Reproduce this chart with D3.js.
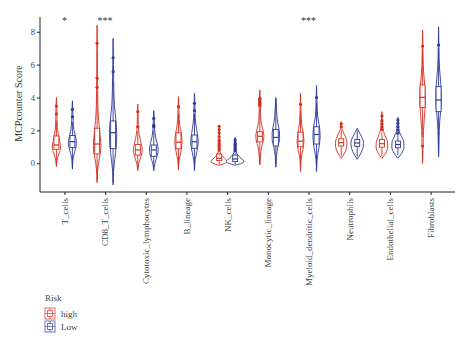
<!DOCTYPE html>
<html><head><meta charset="utf-8">
<script src="https://cdn.jsdelivr.net/npm/d3@7"></script>
<style>body{margin:0;background:#fff}svg{display:block}text{font-family:"Liberation Serif","DejaVu Serif",serif}</style>
</head><body>
<svg id="chart" width="474" height="350"></svg>
<script>
const categories = ["T_cells","CD8_T_cells","Cytotoxic_lymphocytes","B_lineage","NK_cells","Monocytic_lineage","Myeloid_dendritic_cells","Neutrophils","Endothelial_cells","Fibroblasts"];
const groups = ["high","Low"];
const yTicks = [0,2,4,6,8];
const signif = ["*","***","","","","","***","","",""];

// box statistics per category (high risk)
const highQ1     = [0.85,0.57,0.50,0.88,0.16,1.30,1.00,1.05,0.98,3.40];
const highMedian = [1.11,1.17,0.81,1.28,0.30,1.64,1.34,1.25,1.19,4.01];
const highQ3     = [1.66,2.13,1.14,1.85,0.56,1.92,1.89,1.49,1.45,4.76];
const highWLo    = [-0.10,-1.00,-0.30,-0.30,-0.05,0.00,-0.40,0.45,0.45,1.60];
const highWHi    = [2.60,4.20,2.00,3.00,0.62,3.30,3.20,2.00,1.85,6.80];
const highOut    = [[3.00,3.48],[4.62,5.17,7.30],[2.22,3.14],[3.44],[0.80,0.95,1.10,1.25,1.40,1.60,1.85,2.05,2.25],[3.50,3.58,3.65,3.73,3.80,3.88,3.95],[3.59],[2.22,2.40],[2.05,2.20,2.39,2.59,2.87],[1.05,7.13]];
// box statistics per category (Low risk)
const lowQ1     = [0.95,0.89,0.42,0.91,0.10,1.05,1.17,1.03,0.94,3.14];
const lowMedian = [1.31,1.86,0.81,1.31,0.26,1.57,1.75,1.23,1.14,3.85];
const lowQ3     = [1.69,2.57,1.11,1.72,0.50,2.06,2.22,1.44,1.35,4.66];
const lowWLo    = [-0.25,-1.15,-0.30,-0.30,-0.05,-0.10,-0.40,0.40,0.50,0.60];
const lowWHi    = [2.50,5.00,2.00,3.00,0.60,3.90,3.70,2.00,1.70,7.00];
const lowOut    = [[2.83,3.28],[5.57,6.42],[2.22,2.30,2.73],[3.20,3.65],[0.75,0.85,0.95,1.05,1.15,1.25,1.42],[],[4.00],[],[1.82,2.02,2.22,2.43,2.63],[7.19]];

// violin density profiles: [value, relative density]
const highViolin = [
 [[-0.2,0],[0.3,0.12],[0.7,0.35],[0.9,0.46],[1.3,0.38],[1.7,0.24],[2.2,0.1],[2.8,0.06],[3.5,0.04],[4.0,0]],
 [[-1.18,0],[-0.5,0.05],[0,0.15],[0.6,0.35],[1.1,0.42],[1.6,0.35],[2.2,0.25],[3,0.12],[4,0.07],[5.5,0.04],[7,0.03],[8.4,0]],
 [[-0.45,0],[0,0.12],[0.5,0.4],[0.8,0.5],[1.1,0.42],[1.5,0.25],[2.0,0.1],[2.7,0.05],[3.6,0]],
 [[-0.41,0],[0.2,0.08],[0.8,0.3],[1.3,0.4],[1.8,0.32],[2.3,0.15],[3,0.07],[3.5,0.04],[4.05,0]],
 [[-0.12,0],[0.0,0.7],[0.1,0.92],[0.3,0.6],[0.55,0.2],[0.8,0.08],[1.5,0.04],[2.19,0]],
 [[-0.1,0],[0.5,0.08],[1.0,0.2],[1.4,0.4],[1.7,0.45],[2.1,0.3],[2.6,0.12],[3.2,0.07],[3.8,0.06],[4.46,0]],
 [[-0.51,0],[0.2,0.06],[0.8,0.25],[1.3,0.38],[1.8,0.3],[2.4,0.12],[3.2,0.05],[4.26,0]],
 [[0.3,0],[0.6,0.35],[0.9,0.58],[1.2,0.64],[1.5,0.55],[1.8,0.3],[2.1,0.08],[2.53,0]],
 [[0.3,0],[0.6,0.4],[1.0,0.65],[1.3,0.62],[1.6,0.42],[2.0,0.15],[2.5,0.06],[3.14,0]],
 [[0,0],[1,0.05],[2,0.1],[3,0.22],[3.8,0.32],[4.5,0.28],[5.5,0.12],[6.5,0.05],[8.1,0]]
];
const lowViolin = [
 [[-0.36,0],[0.3,0.08],[0.8,0.3],[1.2,0.45],[1.6,0.35],[2.0,0.18],[2.6,0.08],[3.3,0.04],[3.8,0]],
 [[-1.32,0],[-0.5,0.05],[0.3,0.2],[1.0,0.35],[1.8,0.4],[2.5,0.33],[3.5,0.15],[4.5,0.08],[6,0.04],[7.6,0]],
 [[-0.45,0],[0,0.12],[0.5,0.4],[0.8,0.48],[1.2,0.38],[1.6,0.2],[2.2,0.08],[2.7,0.05],[3.2,0]],
 [[-0.45,0],[0.2,0.08],[0.8,0.3],[1.3,0.42],[1.8,0.32],[2.4,0.15],[3.2,0.06],[3.7,0.04],[4.26,0]],
 [[-0.12,0],[0.0,0.75],[0.1,1.0],[0.3,0.65],[0.55,0.22],[0.8,0.08],[1.2,0.04],[1.58,0]],
 [[-0.24,0],[0.4,0.06],[1.0,0.22],[1.5,0.42],[1.9,0.4],[2.5,0.2],[3.2,0.08],[4.0,0]],
 [[-0.51,0],[0.2,0.06],[0.9,0.25],[1.6,0.4],[2.2,0.33],[2.8,0.14],[3.6,0.06],[4.72,0]],
 [[0.24,0],[0.5,0.3],[0.9,0.62],[1.2,0.7],[1.5,0.58],[1.8,0.3],[2.13,0]],
 [[0.3,0],[0.6,0.4],[1.0,0.68],[1.3,0.65],[1.6,0.42],[2.0,0.12],[2.4,0.06],[2.8,0]],
 [[0.4,0],[1.5,0.05],[2.5,0.12],[3.3,0.25],[4.0,0.3],[4.8,0.25],[5.8,0.1],[7,0.04],[8.3,0]]
];

const colors = {high:"#D42E1F", Low:"#2D3994"};
const series = {
  high:{q1:highQ1,med:highMedian,q3:highQ3,wlo:highWLo,whi:highWHi,out:highOut,vio:highViolin},
  Low:{q1:lowQ1,med:lowMedian,q3:lowQ3,wlo:lowWLo,whi:lowWHi,out:lowOut,vio:lowViolin}
};

const svg = d3.select("#chart");
const L=40, R=455, T=17, B=192;
const x = d3.scalePoint().domain(categories).range([L,R]).padding(0.6);
const dodge = d3.scaleBand().domain(groups).range([-16,16]);
const y = d3.scaleLinear().domain([-1.75,8.9]).range([B,T]);
const w = d3.scaleLinear().domain([0,1]).range([0,9]);
const boxHalf = 2.5;

const g = svg.append("g");
groups.forEach(gr=>{
  const s = series[gr], col = colors[gr];
  categories.forEach((c,i)=>{
    const cx = x(c) + dodge(gr) + dodge.bandwidth()/2;
    const area = d3.area().y(d=>y(d[0])).x0(d=>cx-w(d[1])).x1(d=>cx+w(d[1])).curve(d3.curveMonotoneY);
    g.append("path").attr("d",area(s.vio[i])).attr("fill","#fff").attr("stroke",col).attr("stroke-width",0.9);
    g.append("line").attr("x1",cx).attr("x2",cx).attr("y1",y(s.wlo[i])).attr("y2",y(s.q1[i])).attr("stroke",col).attr("stroke-width",0.9);
    g.append("line").attr("x1",cx).attr("x2",cx).attr("y1",y(s.q3[i])).attr("y2",y(s.whi[i])).attr("stroke",col).attr("stroke-width",0.9);
    g.append("rect").attr("x",cx-boxHalf).attr("width",boxHalf*2).attr("y",y(s.q3[i])).attr("height",y(s.q1[i])-y(s.q3[i]))
      .attr("fill","#fff").attr("stroke",col).attr("stroke-width",0.9);
    g.append("line").attr("x1",cx-boxHalf).attr("x2",cx+boxHalf).attr("y1",y(s.med[i])).attr("y2",y(s.med[i])).attr("stroke",col).attr("stroke-width",1.2);
    s.out[i].forEach(v=>{
      g.append("circle").attr("cx",cx).attr("cy",y(v)).attr("r",1.6).attr("fill",col);
    });
  });
});

// axes
const yAxis = svg.append("g").attr("transform",`translate(${L},0)`)
  .call(d3.axisLeft(y).tickValues(yTicks).tickSize(3).tickPadding(2).tickSizeOuter(0));
yAxis.select(".domain").attr("d",`M0,${T}V${B}`).attr("stroke","#222").attr("stroke-width",1);
yAxis.selectAll(".tick line").attr("stroke","#222");
yAxis.selectAll("text").attr("font-size",8.5).attr("fill","#444").attr("font-family","Liberation Serif");

const xAxis = svg.append("g").attr("transform",`translate(0,${B})`)
  .call(d3.axisBottom(x).tickSize(3).tickSizeOuter(0));
xAxis.select(".domain").attr("d",`M${L},0H${R}`).attr("stroke","#222").attr("stroke-width",1);
xAxis.selectAll(".tick line").attr("stroke","#222");
xAxis.selectAll("text").attr("font-size",9).attr("fill","#444").attr("font-family","Liberation Serif")
  .attr("transform","rotate(-90)").attr("text-anchor","end").attr("dy","0.32em").attr("x",-6).attr("y",0);

svg.append("text").attr("transform",`translate(22,${(T+B)/2-1}) rotate(-90)`).attr("text-anchor","middle")
  .attr("font-size",10).attr("fill","#333").text("MCPcounter Score");

// significance labels
categories.forEach((c,i)=>{
  if(signif[i]) svg.append("text").attr("x",x(c)).attr("y",24).attr("text-anchor","middle")
    .attr("font-size",10).attr("fill","#333").text(signif[i]);
});

// legend
const lg = svg.append("g");
lg.append("text").attr("x",45).attr("y",301).attr("font-size",9).attr("fill","#444").text("Risk");
groups.forEach((gr,k)=>{
  const y0 = 308 + k*13, col = colors[gr];
  const ig = lg.append("g").attr("opacity",0.75);
  ig.append("rect").attr("x",45).attr("y",y0).attr("width",10).attr("height",11).attr("fill","none").attr("stroke",col).attr("stroke-width",0.9);
  ig.append("rect").attr("x",47.5).attr("y",y0+2.5).attr("width",5).attr("height",6).attr("fill","none").attr("stroke",col).attr("stroke-width",0.9);
  ig.append("line").attr("x1",45).attr("x2",55).attr("y1",y0+5.5).attr("y2",y0+5.5).attr("stroke",col).attr("stroke-width",0.9);
  ig.append("line").attr("x1",50).attr("x2",50).attr("y1",y0).attr("y2",y0+2.5).attr("stroke",col).attr("stroke-width",0.9);
  ig.append("line").attr("x1",50).attr("x2",50).attr("y1",y0+8.5).attr("y2",y0+11).attr("stroke",col).attr("stroke-width",0.9);
  lg.append("text").attr("x",61).attr("y",y0+8.5).attr("font-size",9).attr("fill","#444").text(gr);
});
</script>
</body></html>
